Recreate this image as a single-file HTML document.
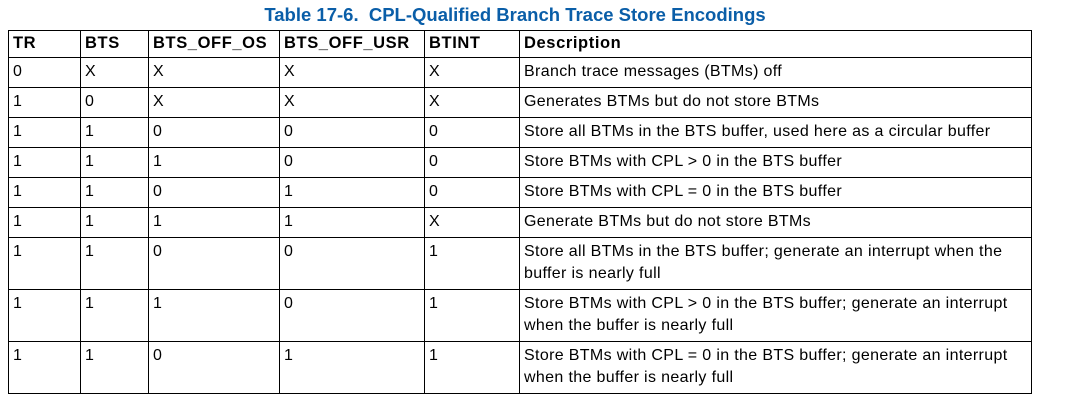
<!DOCTYPE html>
<html><head><style>
body{margin:0;width:1067px;height:415px;background:#fff;position:relative;font-family:"Liberation Sans",sans-serif;overflow:hidden}
.t{position:absolute;top:4px;left:0;width:1030px;text-align:center;color:#0a5ea8;font-weight:bold;font-size:18.5px}
table{position:absolute;left:8px;top:30px;border-collapse:collapse;font-size:16px;letter-spacing:0.35px;color:#000;table-layout:fixed}
td,th{border:1.5px solid #000;padding:0 0 0 4px;vertical-align:top;text-align:left;line-height:22px;box-sizing:border-box}
th{height:27px;font-weight:bold;line-height:24px;font-size:16.5px;letter-spacing:0.6px}
td{height:30px;padding-top:3px}
tr.d td{height:52px}
</style></head><body>
<div class="t">Table 17-6.&nbsp; CPL-Qualified Branch Trace Store Encodings</div>
<table>
<colgroup><col style="width:72px"><col style="width:68px"><col style="width:131px"><col style="width:145px"><col style="width:95px"><col style="width:512px"></colgroup>
<tr><th>TR</th><th>BTS</th><th>BTS_OFF_OS</th><th>BTS_OFF_USR</th><th>BTINT</th><th>Description</th></tr>
<tr><td>0</td><td>X</td><td>X</td><td>X</td><td>X</td><td>Branch trace messages (BTMs) off</td></tr>
<tr><td>1</td><td>0</td><td>X</td><td>X</td><td>X</td><td>Generates BTMs but do not store BTMs</td></tr>
<tr><td>1</td><td>1</td><td>0</td><td>0</td><td>0</td><td>Store all BTMs in the BTS buffer, used here as a circular buffer</td></tr>
<tr><td>1</td><td>1</td><td>1</td><td>0</td><td>0</td><td>Store BTMs with CPL &gt; 0 in the BTS buffer</td></tr>
<tr><td>1</td><td>1</td><td>0</td><td>1</td><td>0</td><td>Store BTMs with CPL = 0 in the BTS buffer</td></tr>
<tr><td>1</td><td>1</td><td>1</td><td>1</td><td>X</td><td>Generate BTMs but do not store BTMs</td></tr>
<tr class="d"><td>1</td><td>1</td><td>0</td><td>0</td><td>1</td><td>Store all BTMs in the BTS buffer; generate an interrupt when the<br>buffer is nearly full</td></tr>
<tr class="d"><td>1</td><td>1</td><td>1</td><td>0</td><td>1</td><td>Store BTMs with CPL &gt; 0 in the BTS buffer; generate an interrupt<br>when the buffer is nearly full</td></tr>
<tr class="d"><td>1</td><td>1</td><td>0</td><td>1</td><td>1</td><td>Store BTMs with CPL = 0 in the BTS buffer; generate an interrupt<br>when the buffer is nearly full</td></tr>
</table>
</body></html>
